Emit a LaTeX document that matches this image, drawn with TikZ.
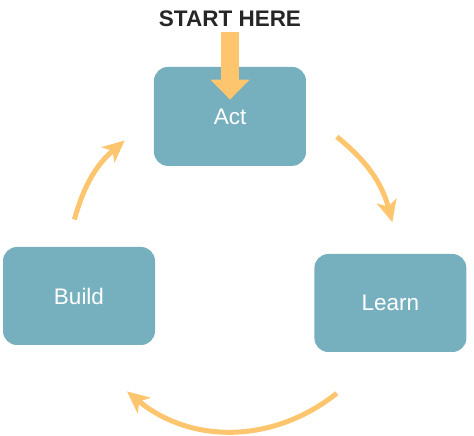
\documentclass[tikz,border=0pt]{standalone}
\usepackage{fontspec}
\setmainfont{Liberation Sans}
\usetikzlibrary{positioning, arrows.meta, calc}
\definecolor{loopteal}{HTML}{76B0BF}
\definecolor{looporange}{HTML}{FDC56E}
\colorlet{color_label}{black!85}

\begin{document}
\begin{tikzpicture}[
    font=\fontsize{16}{19}\selectfont,
    stage/.style={fill=loopteal, text=white, rounded corners=3.5mm, minimum width=3.8cm, minimum height=2.45cm, align=center},
    cyclearrow/.style={-{Stealth[length=5.5mm, width=5mm, inset=1.5mm]}, line width=1.25mm, draw=looporange},
    startarrow/.style={-{Triangle[length=5mm, width=9.5mm]}, line width=4.5mm, draw=looporange}
]
\useasboundingbox (0,0) rectangle (11.85,10.9);

%% ============================================================
%% STAGES
%% ============================================================
\node[stage, minimum height=2.475cm] (act) at (5.75, 7.99) {Act};
\node[stage] (learn) at (9.76, 3.325) {Learn};
\node[stage] (build) at (1.975, 3.5) {Build};

\node[anchor=south, inner sep=0pt, font=\fontsize{16}{19}\selectfont\bfseries, text=color_label] (start) at (5.75, 10.225) {START HERE};
\draw[startarrow, shorten <=1.25mm, shorten >=-8.25mm] (start) -- (act);

%% --- Cycle arrows ---
\coordinate (hub) at (5.825, 4.275);
\foreach \i/\a/\b in {1/51/15, 2/-51/-130, 3/164/131} {
    \coordinate (c\i s) at ($(hub)+(\a:4.125)$);
    \coordinate (c\i e) at ($(hub)+(\b:4.125)$);
}
\draw[cyclearrow] (c1s) to[bend left=18] (c1e);
\draw[cyclearrow] (c2s) to[bend left=39] (c2e);
\draw[cyclearrow] (c3s) to[bend left=17] (c3e);

\end{tikzpicture}
\end{document}
